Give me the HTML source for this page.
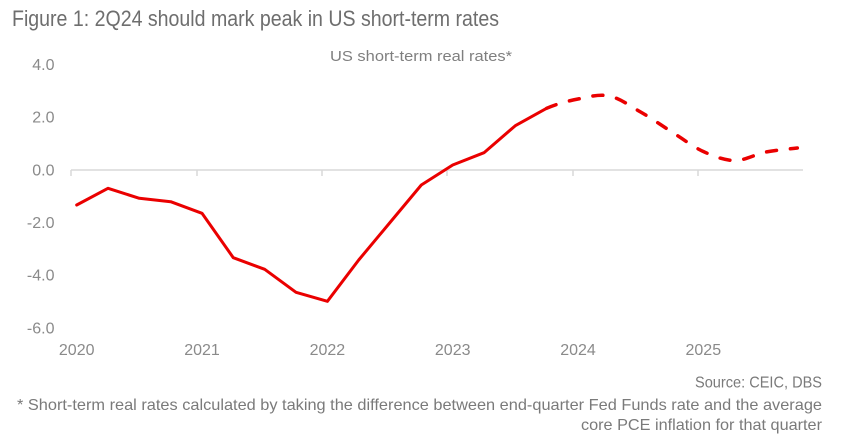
<!DOCTYPE html>
<html><head><meta charset="utf-8"><style>
html,body{margin:0;padding:0;background:#fff;}
svg{display:block;}
text{font-family:"Liberation Sans",sans-serif;}
</style></head><body>
<svg width="845" height="448" viewBox="0 0 845 448" xmlns="http://www.w3.org/2000/svg">
<rect width="845" height="448" fill="#fff"/>
<text x="12" y="26" font-size="22" fill="#6e6e6e" textLength="487" lengthAdjust="spacingAndGlyphs">Figure 1: 2Q24 should mark peak in US short-term rates</text>
<text x="330" y="61" font-size="15" fill="#7f7f7f" textLength="182" lengthAdjust="spacingAndGlyphs">US short-term real rates*</text>
<g font-size="16" fill="#8a8a8a" text-anchor="end">
<text x="54.5" y="70">4.0</text>
<text x="54.5" y="122.7">2.0</text>
<text x="54.5" y="175.4">0.0</text>
<text x="54.5" y="228">-2.0</text>
<text x="54.5" y="280.7">-4.0</text>
<text x="54.5" y="333.4">-6.0</text>
</g>
<g stroke="#d9d9d9" stroke-width="1.5" fill="none">
<line x1="71" y1="170" x2="803" y2="170"/>
<line x1="71" y1="170" x2="71" y2="176"/>
<line x1="197" y1="170" x2="197" y2="176"/>
<line x1="322" y1="170" x2="322" y2="176"/>
<line x1="447" y1="170" x2="447" y2="176"/>
<line x1="573" y1="170" x2="573" y2="176"/>
<line x1="698" y1="170" x2="698" y2="176"/>
</g>
<g font-size="16" fill="#8a8a8a" text-anchor="middle">
<text x="76.7" y="355">2020</text>
<text x="202" y="355">2021</text>
<text x="327.4" y="355">2022</text>
<text x="452.7" y="355">2023</text>
<text x="578" y="355">2024</text>
<text x="703.3" y="355">2025</text>
</g>
<polyline fill="none" stroke="#ea0000" stroke-width="3" stroke-linejoin="round" stroke-linecap="round"
points="76.7,205 108,188.3 139.3,198.3 170.7,201.7 202,213.3 233.3,257.7 264.7,269.3 296,292.3 327.4,301.3 358.7,260 390,222.5 421.3,185 452.7,165 484,152.7 515.3,125.7 546.6,108.3"/>
<path fill="none" stroke="#ea0000" stroke-width="3.5" stroke-linecap="round" stroke-dasharray="10 14"
d="M546.6,108.3 C557.05,103.85 567.55,101.05 578,99 C588.45,96.95 598.87,93.83 609.3,96 C619.73,98.17 630.15,106 640.6,112 C651.05,118 661.55,125.42 672,132 C682.45,138.58 692.87,146.75 703.3,151.5 C713.73,156.25 724.15,160.42 734.6,160.5 C745.05,160.58 755.55,154.08 766,152 C776.45,149.92 786.85,149.33 797.3,148"/>
<g font-size="16" fill="#7a7a7a" text-anchor="end">
<text x="822" y="387.5" textLength="127" lengthAdjust="spacingAndGlyphs">Source: CEIC, DBS</text>
<text x="822" y="410" textLength="805" lengthAdjust="spacingAndGlyphs">* Short-term real rates calculated by taking the difference between end-quarter Fed Funds rate and the average</text>
<text x="822" y="430" textLength="241" lengthAdjust="spacingAndGlyphs">core PCE inflation for that quarter</text>
</g>
</svg>
</body></html>
